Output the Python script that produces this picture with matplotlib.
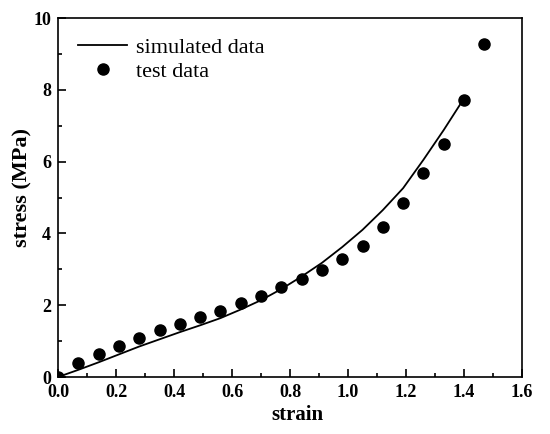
import matplotlib
matplotlib.use("Agg")
import matplotlib.pyplot as plt
from matplotlib.ticker import MultipleLocator

# datos
strain_test = [0.0, 0.07, 0.14, 0.21, 0.28, 0.35, 0.42, 0.49, 0.56, 0.63, 0.70,
               0.77, 0.84, 0.91, 0.98, 1.05, 1.12, 1.19, 1.26, 1.33, 1.40, 1.47]
stress_test = [0.0, 0.39, 0.65, 0.86, 1.10, 1.30, 1.49, 1.68, 1.85, 2.05, 2.27,
               2.50, 2.74, 2.99, 3.28, 3.66, 4.17, 4.84, 5.69, 6.49, 7.73, 9.28]

strain_sim = [0.0, 0.07, 0.14, 0.21, 0.28, 0.35, 0.42, 0.49, 0.56, 0.63, 0.70,
              0.77, 0.84, 0.91, 0.98, 1.05, 1.12, 1.19, 1.26, 1.33, 1.40]
stress_sim = [0.0, 0.20, 0.41, 0.63, 0.85, 1.05, 1.25, 1.44, 1.64, 1.88, 2.14,
              2.45, 2.80, 3.18, 3.62, 4.10, 4.65, 5.26, 6.05, 6.88, 7.76]

plt.rcParams['font.family'] = ['Liberation Serif', 'DejaVu Serif']

fig = plt.figure(figsize=(5.5, 4.34), dpi=100)
ax = fig.add_axes([0.1055, 0.1313, 0.8436, 0.8272])

ax.plot(strain_sim, stress_sim, 'k-', linewidth=1.3, label="simulated data")
ax.plot(strain_test, stress_test, 'ko', markersize=8, linestyle='none',
        label="test data")

ax.set_xlim(0, 1.6)
ax.set_ylim(0, 10)
ax.xaxis.set_major_locator(MultipleLocator(0.2))
ax.xaxis.set_minor_locator(MultipleLocator(0.1))
ax.yaxis.set_major_locator(MultipleLocator(2))
ax.yaxis.set_minor_locator(MultipleLocator(1))
ax.xaxis.set_major_formatter(plt.FuncFormatter(lambda v, p: f"{v:.1f}"))

ax.tick_params(which='both', direction='in', top=False, right=False, width=1.2)
ax.tick_params(which='major', length=5.5, labelsize=13, pad=5)
ax.tick_params(which='minor', length=3)
for lab in ax.get_xticklabels() + ax.get_yticklabels():
    lab.set_fontweight('bold')
for sp in ax.spines.values():
    sp.set_linewidth(1.2)

ax.set_xlabel("strain", fontsize=15, fontweight='bold')
ax.set_ylabel("stress (MPa)", fontsize=16, fontweight='bold')
ax.xaxis.set_label_coords(0.515, -0.078)
ax.yaxis.set_label_coords(-0.054, 0.528)

ax.legend(loc='upper left', frameon=False, fontsize=16, handlelength=2.2,
          handletextpad=0.4, borderaxespad=0.3, labelspacing=0.15,
          bbox_to_anchor=(0.01, 0.99))

plt.savefig("out.png", dpi=100)
plt.close()
